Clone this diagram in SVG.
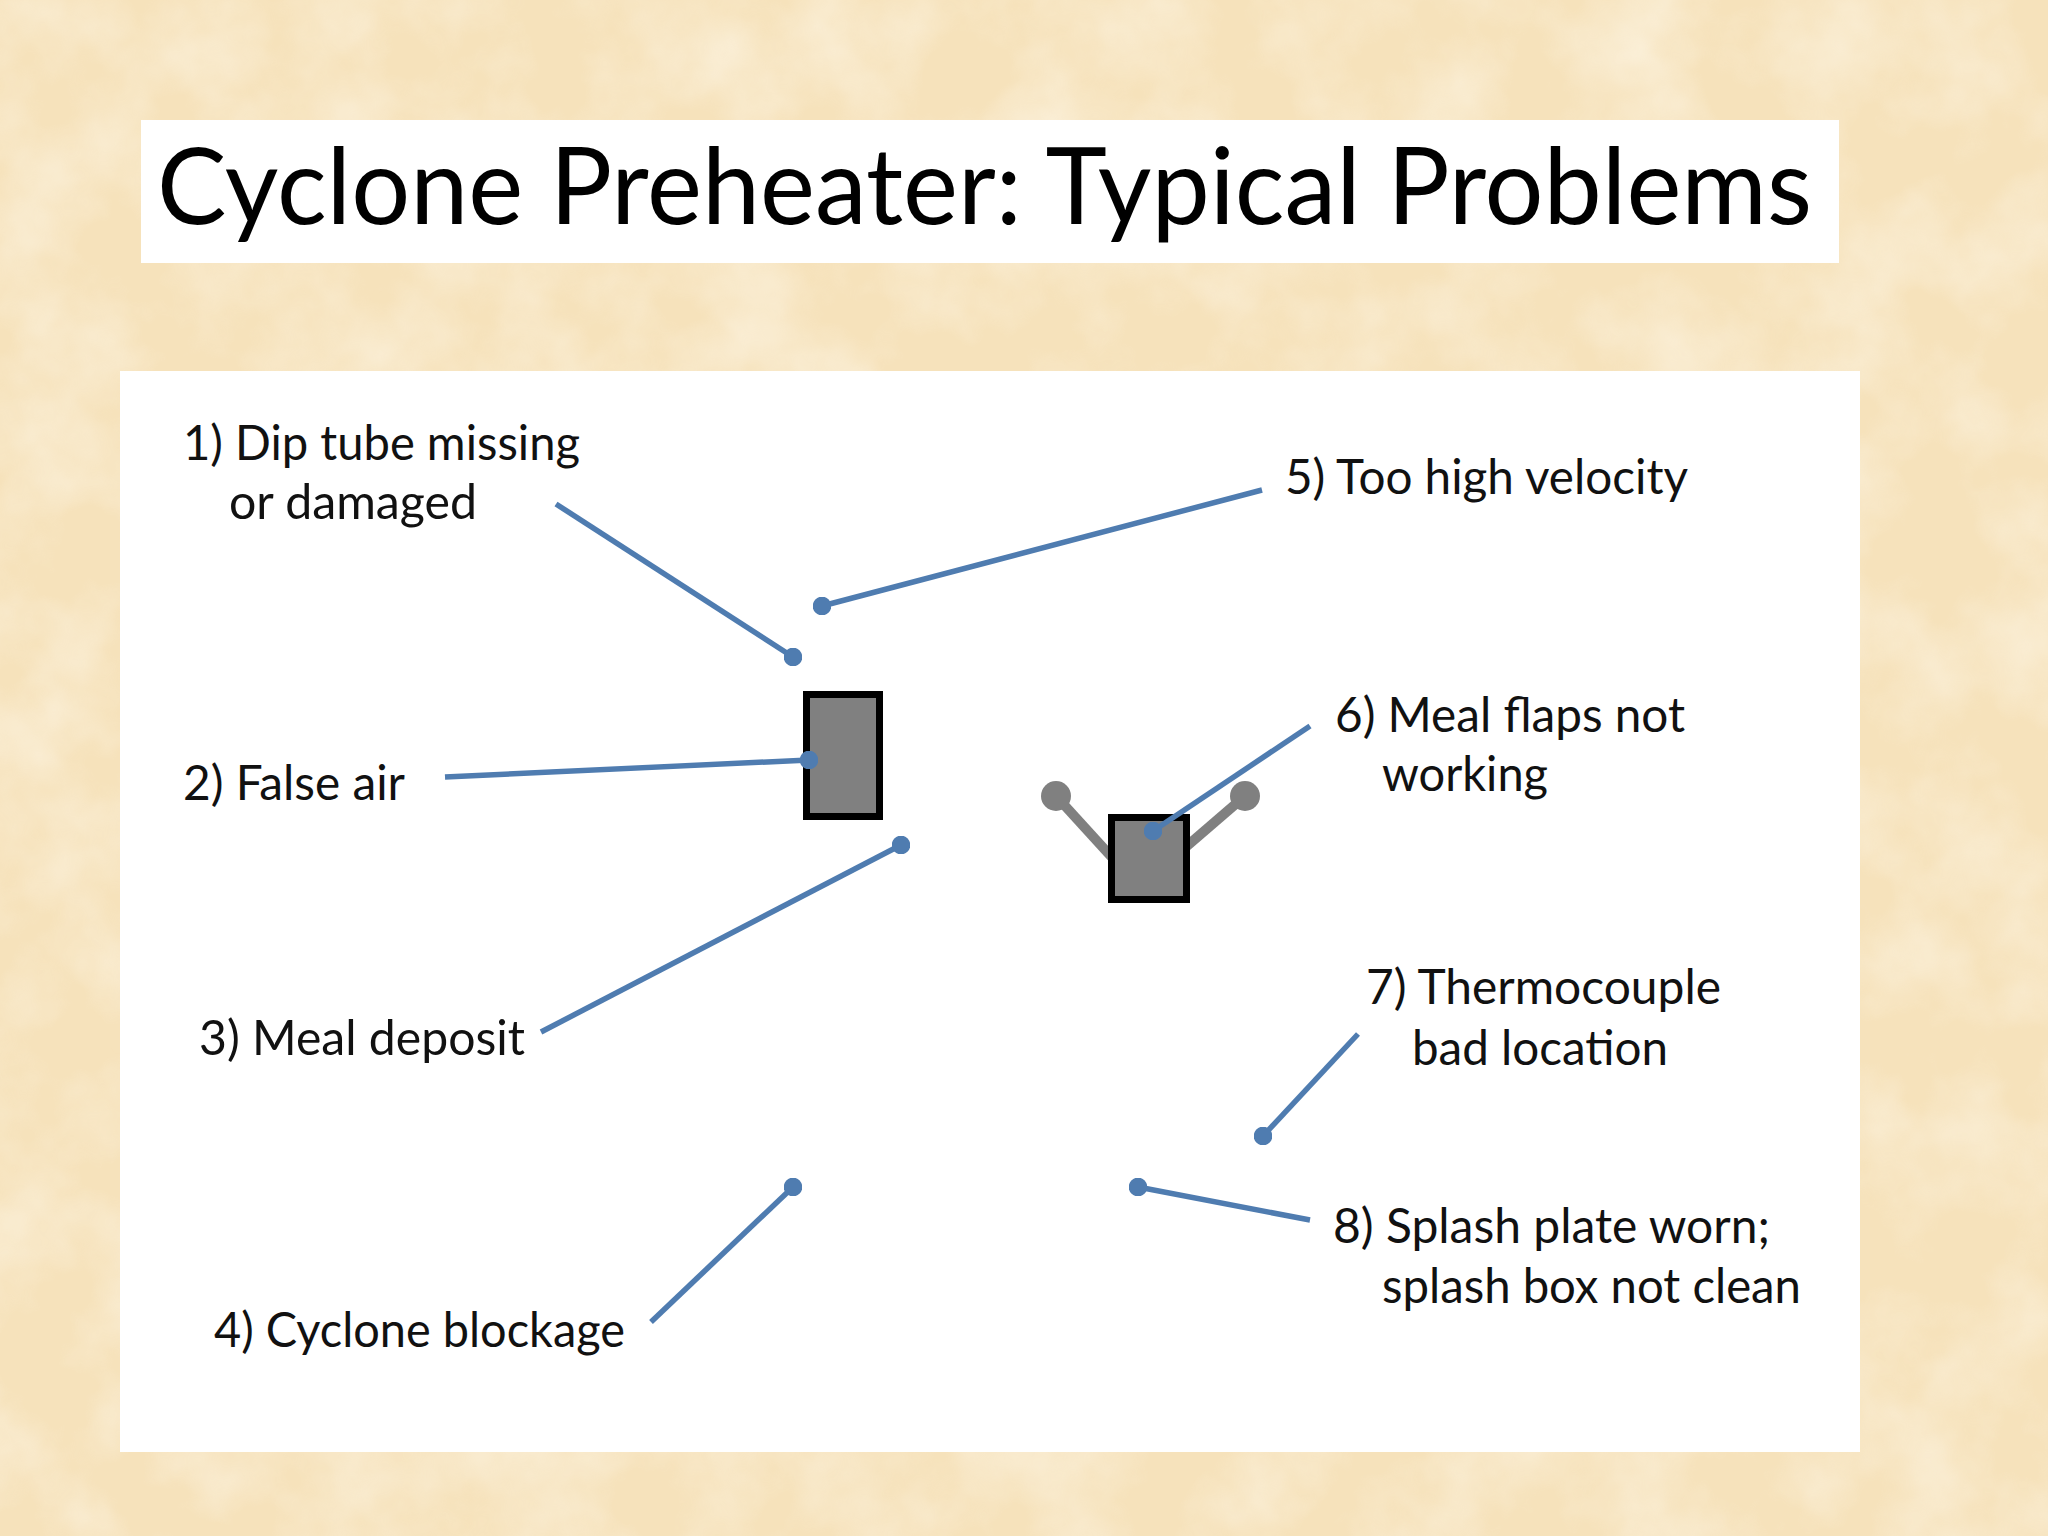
<svg xmlns="http://www.w3.org/2000/svg" width="2048" height="1536" viewBox="0 0 2048 1536">
  <defs>
    <style>
      .lbl { font-family: Lato, "Liberation Sans", sans-serif; font-size: 48px; fill: #111; }
      .title { font-family: Lato, "Liberation Sans", sans-serif; font-size: 106px; fill: #000; }
      .conn { stroke: #4f7cb0; stroke-width: 5.5; fill: none; stroke-linecap: butt; marker-end: url(#dot); }
      .box { fill: #808080; stroke: #000; stroke-width: 7; }
      .arm { stroke: #808080; stroke-width: 10; fill: none; }
      .knob { fill: #808080; }
    </style>
    <marker id="dot" viewBox="0 0 10 10" refX="5" refY="5" markerWidth="3.4" markerHeight="3.4" markerUnits="strokeWidth">
      <circle cx="5" cy="5" r="5" fill="#4f7cb0"/>
    </marker>
    <filter id="parch" x="0" y="0" width="100%" height="100%">
      <feTurbulence type="fractalNoise" baseFrequency="0.01" numOctaves="4" seed="7"/>
      <feColorMatrix type="matrix" values="0 0 0 0 1  0 0 0 0 0.97  0 0 0 0 0.9  1.6 0 0 0 -0.6"/>
    </filter>
  </defs>

  <!-- background -->
  <rect x="0" y="0" width="2048" height="1536" fill="#f6e2bb"/>
  <rect x="0" y="0" width="2048" height="1536" fill="#fff" filter="url(#parch)" opacity="0.55"/>

  <!-- title -->
  <g id="title">
    <rect x="141" y="120" width="1698" height="143" fill="#fff"/>
    <text class="title" x="157" y="224" textLength="1655" lengthAdjust="spacingAndGlyphs">Cyclone Preheater: Typical Problems</text>
  </g>

  <!-- panel -->
  <rect id="panel" x="120" y="371" width="1740" height="1081" fill="#fff"/>

  <!-- nodes -->
  <g id="cyclone-box">
    <rect class="box" x="806.5" y="694.5" width="73" height="122"/>
  </g>
  <g id="meal-flap">
    <line class="arm" x1="1056" y1="796" x2="1118" y2="864"/>
    <line class="arm" x1="1245" y1="796" x2="1180" y2="852"/>
    <circle class="knob" cx="1056" cy="796" r="15"/>
    <circle class="knob" cx="1245" cy="796" r="15"/>
    <rect class="box" x="1111.5" y="817.5" width="75" height="82"/>
  </g>

  <!-- connectors -->
  <g id="connectors">
    <line class="conn" x1="556" y1="504" x2="793" y2="657"/>
    <line class="conn" x1="1262" y1="490" x2="822" y2="606"/>
    <line class="conn" x1="445" y1="777" x2="809" y2="760"/>
    <line class="conn" x1="541" y1="1032" x2="901" y2="845"/>
    <line class="conn" x1="651" y1="1322" x2="793" y2="1187"/>
    <line class="conn" x1="1310" y1="726" x2="1153" y2="831"/>
    <line class="conn" x1="1358" y1="1034" x2="1263" y2="1136"/>
    <line class="conn" x1="1310" y1="1220" x2="1138" y2="1187"/>
  </g>

  <!-- labels -->
  <g id="label-1">
    <text class="lbl" x="183" y="460" textLength="397" lengthAdjust="spacingAndGlyphs">1) Dip tube missing</text>
    <text class="lbl" x="229" y="519" textLength="248" lengthAdjust="spacingAndGlyphs">or damaged</text>
  </g>
  <g id="label-2">
    <text class="lbl" x="183" y="800" textLength="222" lengthAdjust="spacingAndGlyphs">2) False air</text>
  </g>
  <g id="label-3">
    <text class="lbl" x="199" y="1055" textLength="326" lengthAdjust="spacingAndGlyphs">3) Meal deposit</text>
  </g>
  <g id="label-4">
    <text class="lbl" x="214" y="1347" textLength="411" lengthAdjust="spacingAndGlyphs">4) Cyclone blockage</text>
  </g>
  <g id="label-5">
    <text class="lbl" x="1285" y="494" textLength="403" lengthAdjust="spacingAndGlyphs">5) Too high velocity</text>
  </g>
  <g id="label-6">
    <text class="lbl" x="1335" y="732" textLength="350" lengthAdjust="spacingAndGlyphs">6) Meal flaps not</text>
    <text class="lbl" x="1382" y="791" textLength="166" lengthAdjust="spacingAndGlyphs">working</text>
  </g>
  <g id="label-7">
    <text class="lbl" x="1366" y="1004" textLength="355" lengthAdjust="spacingAndGlyphs">7) Thermocouple</text>
    <text class="lbl" x="1412" y="1065" textLength="256" lengthAdjust="spacingAndGlyphs">bad location</text>
  </g>
  <g id="label-8">
    <text class="lbl" x="1333" y="1243" textLength="437" lengthAdjust="spacingAndGlyphs">8) Splash plate worn;</text>
    <text class="lbl" x="1382" y="1303" textLength="419" lengthAdjust="spacingAndGlyphs">splash box not clean</text>
  </g>
</svg>
